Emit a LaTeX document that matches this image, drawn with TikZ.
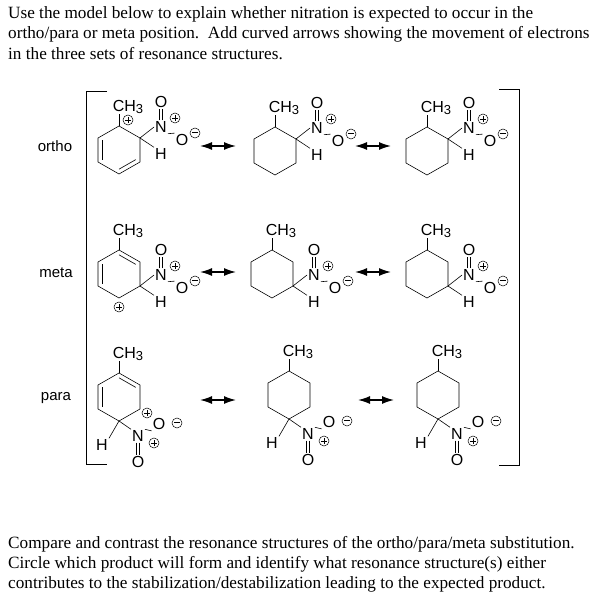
\documentclass[tikz,border=0pt]{standalone}
\usepackage{fontspec}
\setmainfont{Liberation Serif}
\newfontfamily\chemf{Liberation Sans}
\usetikzlibrary{calc,arrows.meta}
\tikzset{
  atom/.style={font=\chemf\fontsize{16}{16}\selectfont,inner sep=1pt},
  chg/.style={circle,draw,inner sep=0pt,minimum size=10pt,line width=0.5pt},
  lbl/.style={font=\chemf\fontsize{15}{15}\selectfont,inner sep=0pt},
  txt/.style={font=\fontsize{17.2}{17}\selectfont,anchor=west,inner sep=0pt},
  rarr/.style={{Latex[length=12pt,width=8pt]}-{Latex[length=12pt,width=8pt]},line width=1.4pt},
  bond/.style={line width=0.6pt}
}
\newcommand\plus{\tikz[baseline=-2.5pt]\draw[line width=0.5pt] (-3pt,0)--(3pt,0) (0,-3pt)--(0,3pt);}
\newcommand\minus{\tikz[baseline=-2.5pt]\draw[line width=0.5pt] (-3pt,0)--(3pt,0);}
\newcommand\hexring[3]{%
  \coordinate (#1c) at (#2,#3);
  \coordinate (#1t) at ($(#2,#3)+(0,-24)$);
  \coordinate (#1ur) at ($(#2,#3)+(21,-12)$);
  \coordinate (#1lr) at ($(#2,#3)+(21,12)$);
  \coordinate (#1b) at ($(#2,#3)+(0,24)$);
  \coordinate (#1ll) at ($(#2,#3)+(-21,12)$);
  \coordinate (#1ul) at ($(#2,#3)+(-21,-12)$);
  \draw[bond] (#1t)--(#1ur)--(#1lr)--(#1b)--(#1ll)--(#1ul)--cycle;
  \coordinate (#1m) at ($(#1t)+(0,-12)$);
  \draw[bond] (#1t)--(#1m);
  \node[atom,anchor=south] (#1me) at ($(#1m)+(9,1)$) {CH\raisebox{-2pt}{\fontsize{13}{13}\selectfont 3}};
}
\newcommand\dbl[3]{\draw[bond] ($(#1#2)!.2!(#1c)$)--($(#1#3)!.2!(#1c)$);}
\newcommand\nitroup[2]{%
  \node[atom] (#1N) at ($(#1#2)+(21,-11)$) {N};
  \node[atom] (#1Ot) at ($(#1N)+(0,-25)$) {O};
  \node[atom] (#1Or) at ($(#1N)+(21,13)$) {O};
  \node[atom] (#1H) at ($(#1#2)+(21,16)$) {H};
  \draw[bond] (#1#2)--(#1N.west);
  \draw[bond] (#1#2)--(#1H.north west);
  \draw[bond] ($(#1N.north)+(-1.5,0)$)--($(#1Ot.south)+(-1.5,0)$);
  \draw[bond] ($(#1N.north)+(1.5,0)$)--($(#1Ot.south)+(1.5,0)$);
  \draw[bond] (#1N.south east)--(#1Or.north west);
  \node[chg] (#1p) at ($(#1N)+(14,-9)$) {\plus};
  \node[chg] (#1n) at ($(#1N)+(34,6)$) {\minus};
}
\newcommand\nitrodown[2]{%
  \node[atom] (#1N) at ($(#1#2)+(19,15)$) {N};
  \node[atom] (#1Ob) at ($(#1N)+(0,26)$) {O};
  \node[atom] (#1Or) at ($(#1N)+(21,-12)$) {O};
  \node[atom] (#1H) at ($(#1#2)+(-17,24)$) {H};
  \draw[bond] (#1#2)--(#1N.north west);
  \draw[bond] (#1#2)--(#1H.north east);
  \draw[bond] ($(#1N.south)+(-1.5,0)$)--($(#1Ob.north)+(-1.5,0)$);
  \draw[bond] ($(#1N.south)+(1.5,0)$)--($(#1Ob.north)+(1.5,0)$);
  \draw[bond] (#1N.north east)--(#1Or.south west);
  \node[chg] (#1p) at ($(#1N)+(16,7)$) {\plus};
  \node[chg] (#1n) at ($(#1N)+(39,-13)$) {\minus};
}
\begin{document}
\begin{tikzpicture}[x=1pt,y=-1pt]
\useasboundingbox (0,0) rectangle (613,604);
\fill[white] (0,0) rectangle (613,604);
\node[txt] (t1) at (8,14) {Use the model below to explain whether nitration is expected to occur in the};
\node[txt] (t2) at (8,34) {ortho/para or meta position.\ \ Add curved arrows showing the movement of electrons};
\node[txt] (t3) at (8,54) {in the three sets of resonance structures.};
\node[txt] (b1) at (8,544) {Compare and contrast the resonance structures of the ortho/para/meta substitution.};
\node[txt] (b2) at (8,564) {Circle which product will form and identify what resonance structure(s) either};
\node[txt] (b3) at (8,584) {contributes to the stabilization/destabilization leading to the expected product.};
\draw[line width=0.8pt] (107,91)--(86,91)--(86,464)--(107,464);
\draw[line width=0.8pt] (499,89)--(519,89)--(519,465)--(499,465);
\node[lbl] (lo) at (55,146) {ortho};
\node[lbl] (lm) at (56,273) {meta};
\node[lbl] (lp) at (56,398) {para};
% ortho row
\hexring{oa}{119}{150}
\dbl{oa}{ll}{ul}\dbl{oa}{b}{lr}
\node[chg] (oac) at ($(oat)+(9,-6)$) {\plus};
\nitroup{oa}{ur}
\hexring{ob}{275}{151}
\nitroup{ob}{ur}
\hexring{oc}{427}{151}
\nitroup{oc}{ur}
\coordinate (a1l) at (200,146);\coordinate (a1r) at (236,146);
\draw[rarr] (a1l)--(a1r);
\coordinate (a2l) at (355,146);\coordinate (a2r) at (391,146);
\draw[rarr] (a2l)--(a2r);
% meta row
\hexring{ma}{119}{274}
\dbl{ma}{t}{ur}\dbl{ma}{ul}{ll}
\node[chg] (mac) at ($(mab)+(0,9)$) {\plus};
\nitroup{ma}{lr}
\hexring{mb}{272}{274}
\nitroup{mb}{lr}
\hexring{mc}{427}{274}
\nitroup{mc}{lr}
\coordinate (a3l) at (200,272);\coordinate (a3r) at (236,272);
\draw[rarr] (a3l)--(a3r);
\coordinate (a4l) at (355,272);\coordinate (a4r) at (391,272);
\draw[rarr] (a4l)--(a4r);
% para row
\hexring{pa}{119}{397}
\dbl{pa}{t}{ur}\dbl{pa}{ul}{ll}
\node[chg] (pac) at ($(palr)+(7,4)$) {\plus};
\nitrodown{pa}{b}
\hexring{pb}{289}{395}
\nitrodown{pb}{b}
\hexring{pc}{438}{395}
\nitrodown{pc}{b}
\coordinate (a5l) at (200,400);\coordinate (a5r) at (236,400);
\draw[rarr] (a5l)--(a5r);
\coordinate (a6l) at (358,400);\coordinate (a6r) at (394,400);
\draw[rarr] (a6l)--(a6r);
\end{tikzpicture}
\end{document}
